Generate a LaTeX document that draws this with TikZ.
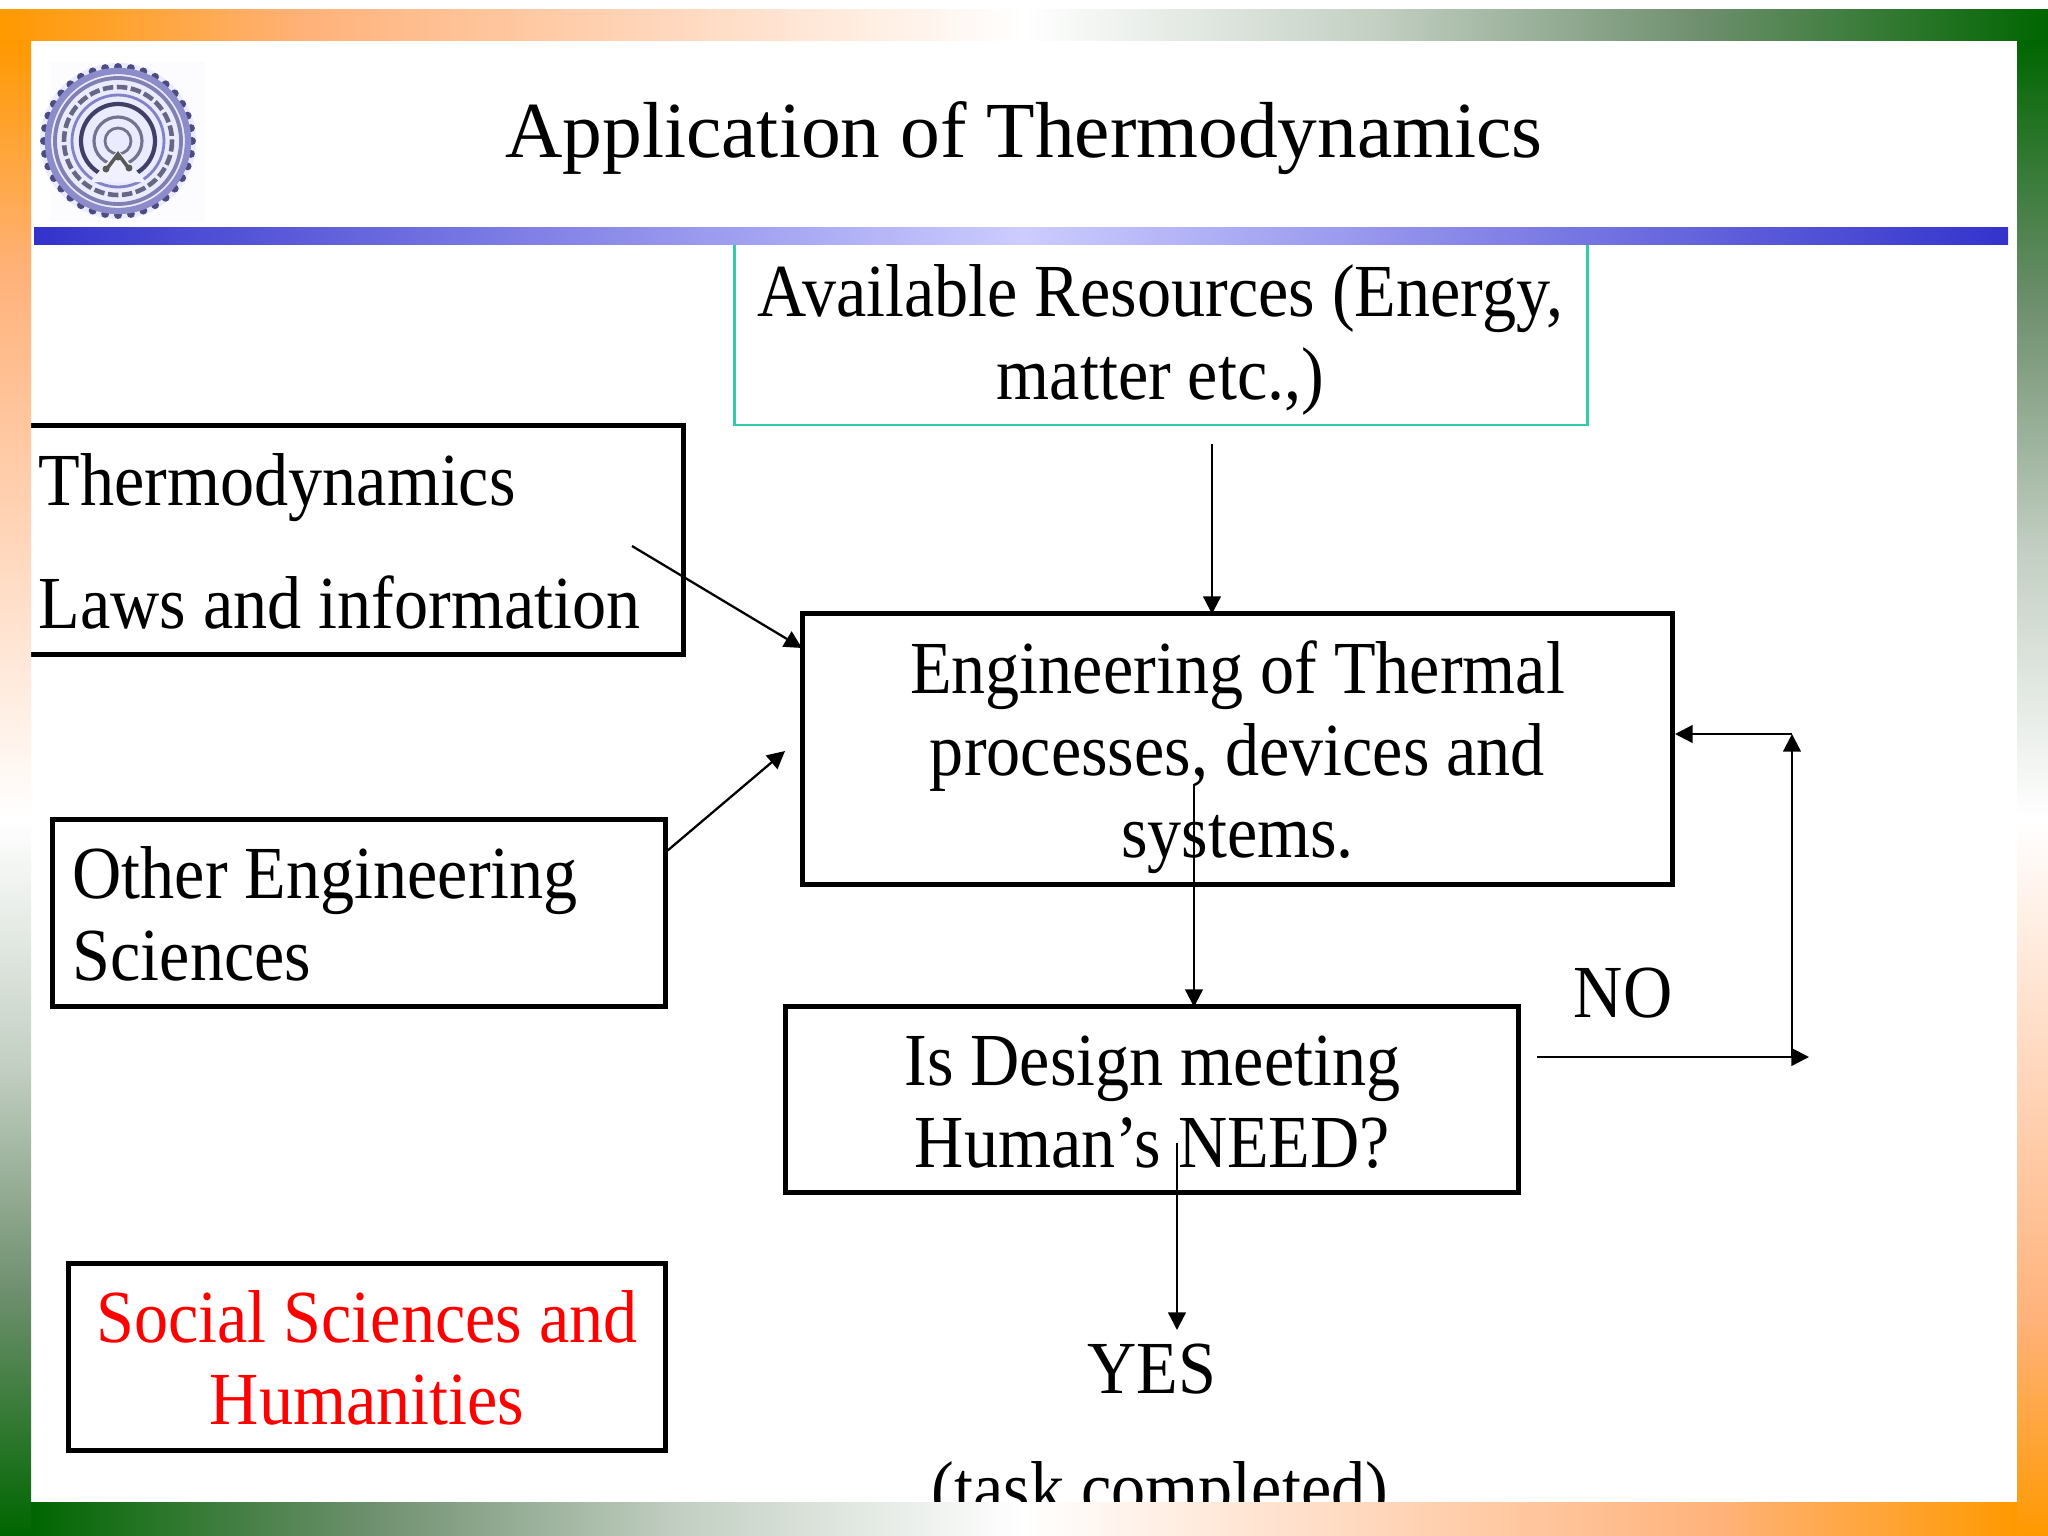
\documentclass[tikz,border=0pt]{standalone}
\usepackage{fontspec}
\setmainfont{Liberation Serif}
\newfontfamily\bodyf[FakeStretch=0.91]{Liberation Serif}
\usetikzlibrary{arrows.meta,calc}
\definecolor{barb}{HTML}{3333CC}
\definecolor{barl}{HTML}{CCCCFF}
\definecolor{teal2}{HTML}{33CCAA}
\definecolor{ora0}{HTML}{FF9900}
\definecolor{ora1}{HTML}{FFB27A}
\definecolor{ora2}{HTML}{FFD8BE}
\definecolor{grn0}{HTML}{006600}
\definecolor{grn1}{HTML}{6E8F6E}
\definecolor{grn2}{HTML}{C4D0C4}
\pgfdeclarehorizontalshading{oraH}{100bp}{color(0bp)=(ora0);color(25bp)=(ora0);color(40bp)=(ora1);color(58bp)=(ora2);color(75bp)=(white);color(100bp)=(white)}
\pgfdeclarehorizontalshading{grnH}{100bp}{color(0bp)=(white);color(25bp)=(white);color(42bp)=(grn2);color(58bp)=(grn1);color(75bp)=(grn0);color(100bp)=(grn0)}
\tikzset{
 x=0.01cm,y=-0.01cm,
 boxk/.style={draw=black,line width=1.4pt,fill=none,inner sep=0pt},
 lab/.style={inner sep=0pt,align=center,font=\bodyf\fontsize{21.3}{23.4}\selectfont},
 lnk/.style={line width=0.65pt,-{Triangle[length=5pt,width=5pt]}}
}
\begin{document}
\begin{tikzpicture}
\useasboundingbox (0,0) rectangle (2048,1536);
\fill[white] (0,0) rectangle (2048,1536);
% logo
\fill[white!99!blue] (50,62) rectangle (205,222);
\fill[white!92!blue] (118,141) circle (78);
\foreach \a in {0,10,...,350}{\fill[blue!30!black!70] ($(118,141)+(\a:74)$) circle (4);}
\draw[blue!55!black!45,line width=1.8pt] (118,141) circle (70);
\draw[blue!25!gray!80,line width=1.1pt] (118,141) circle (63);
\draw[blue!20!black!60,line width=1.3pt,dash pattern=on 3pt off 1pt] (118,141) circle (54);
\draw[blue!40!gray!70,line width=.8pt] (118,141) circle (46);
\draw[blue!20!black!75,line width=1.2pt] (118,141) circle (37);
\draw[blue!20!black!55,line width=.9pt] (118,141) circle (24);
\draw[blue!20!black!55,line width=.8pt] (118,141) circle (13);
\fill[white!94!blue] (118,150) -- (90,182) -- (146,182) -- cycle;
\draw[black!65,line width=1pt] (106,170) -- (118,154) -- (130,170);
\fill[black!65] (106,169) circle (3.5) (118,157) circle (3.5) (129,168) circle (3.5);
% title
\node[lab,font=\rmfamily\fontsize{22.6}{25}\selectfont] (title) at (1024,138) {Application of Thermodynamics};
% top box
\node[draw=teal2,line width=.8pt,inner sep=0pt,minimum width=8.53cm,minimum height=1.90cm] (res) at (1161,330) {};
\node[lab] (restext) at (1160.5,340) {Available Resources (Energy,\\matter etc.,)};
% boxes
\node[boxk,minimum width=6.62cm,minimum height=2.28cm] (thermo) at (352,540) {};
\node[lab,align=left,anchor=west,font=\bodyf\fontsize{21.3}{35}\selectfont] (thermotext) at (38,541) {Thermodynamics\\Laws and information};
\node[boxk,minimum width=6.13cm,minimum height=1.87cm] (other) at (359,913) {};
\node[lab,align=left,anchor=west] (othertext) at (72,914) {Other Engineering\\Sciences};
\node[boxk,minimum width=5.97cm,minimum height=1.87cm] (social) at (367,1357) {};
\node[lab,text=red] (socialtext) at (367,1358) {Social Sciences and\\Humanities};
\node[boxk,minimum width=8.69cm,minimum height=2.70cm] (eng) at (1237.5,749) {};
\node[lab] (engtext) at (1237.5,757) {Engineering of Thermal\\processes, devices and\\systems.};
\node[boxk,minimum width=7.33cm,minimum height=1.85cm] (design) at (1152,1099.5) {};
\node[lab] (designtext) at (1152.5,1102) {Is Design meeting\\Human’s NEED?};
\node[lab] (no) at (1623,993) {NO};
\node[lab] (yes) at (1152,1369) {YES};
\node[lab] (task) at (1160,1495) {(task completed)};
% connectors
\coordinate (a1) at (1212,444); \coordinate (a2) at (1212,614);
\coordinate (b1) at (632,546); \coordinate (b2) at (802,648);
\coordinate (c1) at (667,851); \coordinate (c2) at (785,751);
\coordinate (d1) at (1194,784); \coordinate (d2) at (1194,1007);
\coordinate (e1) at (1177,1143); \coordinate (e2) at (1177,1330);
\coordinate (f1) at (1537,1057); \coordinate (f2) at (1809,1057);
\coordinate (g1) at (1792,1057); \coordinate (g2) at (1792,734);
\coordinate (h2) at (1675,734);
\draw[lnk] (a1) -- (a2);
\draw[lnk] (b1) -- (b2);
\draw[lnk] (c1) -- (c2);
\draw[lnk] (d1) -- (d2);
\draw[lnk] (e1) -- (e2);
\draw[lnk] (f1) -- (f2);
\draw[lnk] (g1) -- (g2);
\draw[lnk] (g2) -- (h2);
% frame
\shade[shading=oraH] (0,9) rectangle (1024,40);
\shade[shading=grnH] (1024,9) rectangle (2048,40);
\shade[shading=oraH,shading angle=-90] (0,40) rectangle (31,820);
\shade[shading=grnH,shading angle=-90] (0,820) rectangle (31,1535);
\shade[shading=grnH,shading angle=90] (2017,40) rectangle (2048,820);
\shade[shading=oraH,shading angle=90] (2017,820) rectangle (2048,1535);
\shade[shading=grnH,shading angle=180] (31,1502) rectangle (1024,1535);
\shade[shading=oraH,shading angle=180] (1024,1502) rectangle (2017,1535);
% bar
\shade[left color=barb,right color=barl] (34,227) rectangle (1024,244);
\shade[left color=barl,right color=barb] (1024,227) rectangle (2008,244);
\end{tikzpicture}
\end{document}
